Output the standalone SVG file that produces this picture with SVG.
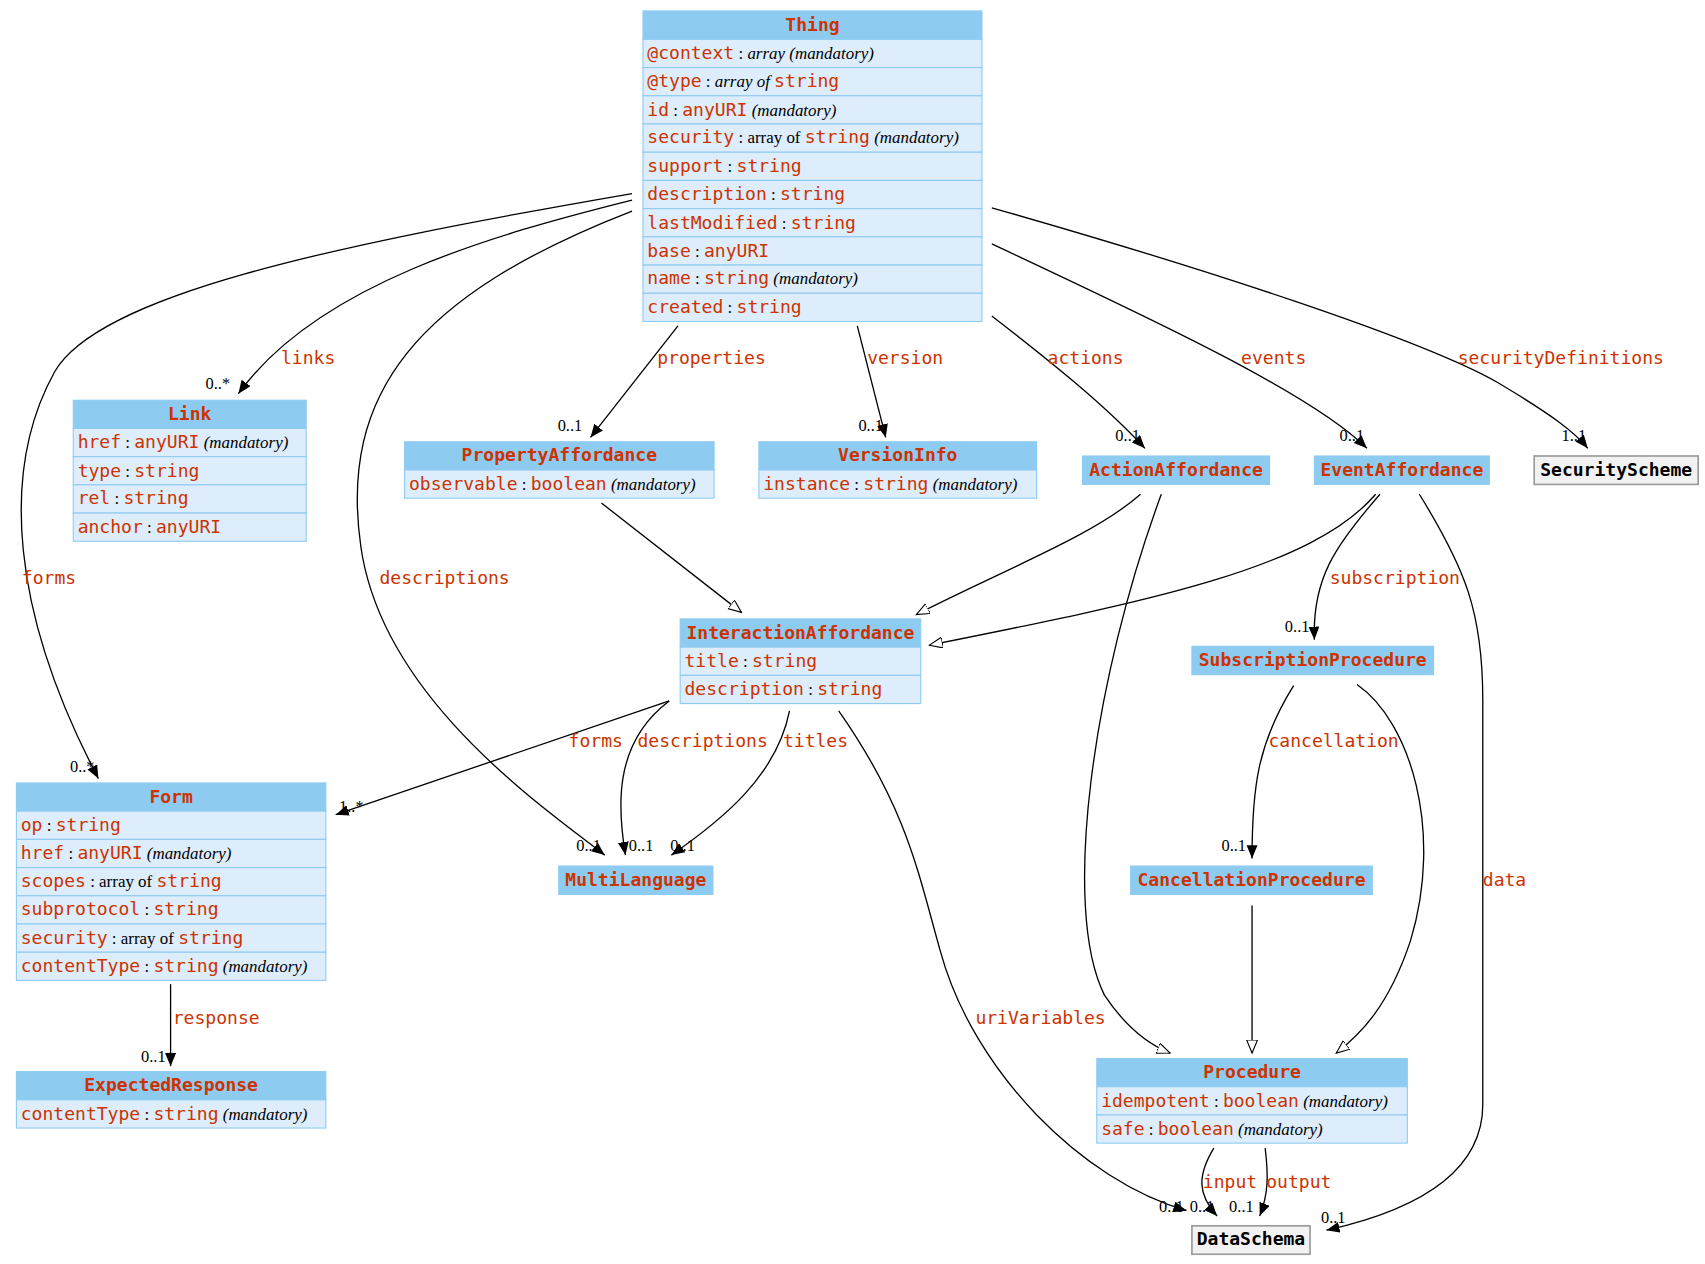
<svg xmlns="http://www.w3.org/2000/svg" width="1705" height="1264" viewBox="0 0 1705 1264">
<style>
.h{fill:#8ecbf1;stroke:#8ecbf1}
.r{fill:#ddedfc;stroke:#8ecbf1}
.g{fill:#f2f2f2;stroke:#999;stroke-width:1.5}
.m{font-family:"DejaVu Sans Mono",monospace;font-size:16.5px;fill:#cc3300}
.hb{font-family:"DejaVu Sans Mono",monospace;font-size:16.5px;font-weight:bold;fill:#cc3300;text-anchor:middle}
.gb{font-family:"DejaVu Sans Mono",monospace;font-size:16.5px;font-weight:bold;fill:#000;text-anchor:middle}
.s{font-family:"Liberation Serif",serif;font-size:15.5px;fill:#000}
.i{font-family:"Liberation Serif",serif;font-size:15.5px;font-style:italic;fill:#000}
.e{fill:none;stroke:#000;stroke-width:1.2}
.a{marker-end:url(#arr)}
.t{marker-end:url(#tri)}
.lab{font-family:"DejaVu Sans Mono",monospace;font-size:16.5px;fill:#cc3300}
.mul{font-family:"Liberation Serif",serif;font-size:15px;fill:#000}
</style>
<defs>
<marker id="arr" markerUnits="userSpaceOnUse" markerWidth="14" markerHeight="12" refX="12" refY="5" orient="auto"><path d="M0,0 L12,5 L0,10 z" fill="#000"/></marker>
<marker id="tri" markerUnits="userSpaceOnUse" markerWidth="14" markerHeight="12" refX="12" refY="5" orient="auto"><path d="M0,0 L12,5 L0,10 z" fill="#fff" stroke="#000"/></marker>
</defs>
<g transform="scale(1.0935)">
<g id="connectors">
<path class="e a" d="M578,183 C450,215 290,260 218,360"/><text class="lab" x="257" y="333">links</text><text class="mul" x="188" y="356">0..*</text>
<path class="e a" d="M578,177 C300,225 90,270 50,340 C0,430 10,560 90,712"/><text class="lab" x="20" y="534">forms</text><text class="mul" x="64" y="706">0..*</text>
<path class="e a" d="M578,193 C380,270 310,360 330,500 C350,640 500,740 553,782"/><text class="lab" x="347" y="534">descriptions</text><text class="mul" x="527" y="778">0..1</text>
<path class="e a" d="M620,298 L540,400"/><text class="lab" x="601" y="333">properties</text><text class="mul" x="510" y="394">0..1</text>
<path class="e a" d="M784,298 L810,400"/><text class="lab" x="793" y="333">version</text><text class="mul" x="785" y="394">0..1</text>
<path class="e a" d="M907,289 C960,330 1010,370 1047,410"/><text class="lab" x="958" y="333">actions</text><text class="mul" x="1020" y="403">0..1</text>
<path class="e a" d="M907,223 C1050,290 1200,360 1250,410"/><text class="lab" x="1135" y="333">events</text><text class="mul" x="1225" y="403">0..1</text>
<path class="e a" d="M907,190 C1100,245 1300,310 1370,350 C1420,380 1440,395 1452,410"/><text class="lab" x="1333" y="333">securityDefinitions</text><text class="mul" x="1428" y="403">1..1</text>
<path class="e t" d="M550,460 L678,560"/>
<path class="e t" d="M1043,452 C1000,490 920,520 838,562"/>
<path class="e t" d="M1258,452 C1200,520 1050,550 850,590"/>
<path class="e t" d="M1062,452 C1000,620 970,830 1010,910 C1030,940 1050,955 1070,963"/>
<path class="e a" d="M1262,452 C1220,500 1200,530 1202,585"/><text class="lab" x="1216" y="534">subscription</text><text class="mul" x="1175" y="578">0..1</text>
<path class="e a" d="M1298,452 C1340,520 1356,560 1356,640 L1356,1010 C1356,1080 1280,1110 1213,1125"/><text class="lab" x="1356" y="810">data</text><text class="mul" x="1208" y="1118">0..1</text>
<path class="e t" d="M1241,626 C1290,660 1320,760 1290,860 C1270,920 1245,945 1222,963"/>
<path class="e a" d="M1183,627 C1150,680 1145,720 1145,785"/><text class="lab" x="1160" y="683">cancellation</text><text class="mul" x="1117" y="778">0..1</text>
<path class="e t" d="M1145,828 L1145,963"/>
<path class="e a" d="M612,641 L307,745"/><text class="lab" x="520" y="683">forms</text><text class="mul" x="310" y="743">1..*</text>
<path class="e a" d="M612,641 C560,680 565,740 572,782"/><text class="lab" x="583" y="683">descriptions</text><text class="mul" x="575" y="778">0..1</text>
<path class="e a" d="M722,650 C710,710 660,750 614,782"/><text class="lab" x="716" y="683">titles</text><text class="mul" x="613" y="778">0..1</text>
<path class="e a" d="M767,650 C830,740 840,800 860,870 C890,980 990,1080 1085,1107"/><text class="lab" x="892" y="936">uriVariables</text><text class="mul" x="1060" y="1108">0..1</text>
<path class="e a" d="M156,900 L156,975"/><text class="lab" x="158" y="936">response</text><text class="mul" x="129" y="971">0..1</text>
<path class="e a" d="M1110,1050 C1095,1075 1095,1092 1113,1112"/><text class="lab" x="1100" y="1086">input</text><text class="mul" x="1088" y="1108">0..1</text>
<path class="e a" d="M1157,1050 C1160,1075 1160,1092 1152,1112"/><text class="lab" x="1158" y="1086">output</text><text class="mul" x="1124" y="1108">0..1</text>
</g>
<g id="Thing">
<rect class="h" x="588" y="10" width="310" height="26"/><text class="hb" x="743" y="28">Thing</text>
<rect class="r" x="588" y="36" width="310" height="25.8"/><text x="592" y="54"><tspan class="m">@context</tspan><tspan class="s"> : </tspan><tspan class="i">array (mandatory)</tspan></text>
<rect class="r" x="588" y="61.8" width="310" height="25.8"/><text x="592" y="80"><tspan class="m">@type</tspan><tspan class="s"> : </tspan><tspan class="i">array of </tspan><tspan class="m">string</tspan></text>
<rect class="r" x="588" y="87.6" width="310" height="25.8"/><text x="592" y="106"><tspan class="m">id</tspan><tspan class="s"> : </tspan><tspan class="m">anyURI</tspan><tspan class="i"> (mandatory)</tspan></text>
<rect class="r" x="588" y="113.4" width="310" height="25.8"/><text x="592" y="131"><tspan class="m">security</tspan><tspan class="s"> : array of </tspan><tspan class="m">string</tspan><tspan class="i"> (mandatory)</tspan></text>
<rect class="r" x="588" y="139.2" width="310" height="25.8"/><text x="592" y="157"><tspan class="m">support</tspan><tspan class="s"> : </tspan><tspan class="m">string</tspan></text>
<rect class="r" x="588" y="165" width="310" height="25.8"/><text x="592" y="183"><tspan class="m">description</tspan><tspan class="s"> : </tspan><tspan class="m">string</tspan></text>
<rect class="r" x="588" y="190.8" width="310" height="25.8"/><text x="592" y="209"><tspan class="m">lastModified</tspan><tspan class="s"> : </tspan><tspan class="m">string</tspan></text>
<rect class="r" x="588" y="216.6" width="310" height="25.8"/><text x="592" y="235"><tspan class="m">base</tspan><tspan class="s"> : </tspan><tspan class="m">anyURI</tspan></text>
<rect class="r" x="588" y="242.4" width="310" height="25.8"/><text x="592" y="260"><tspan class="m">name</tspan><tspan class="s"> : </tspan><tspan class="m">string</tspan><tspan class="i"> (mandatory)</tspan></text>
<rect class="r" x="588" y="268.2" width="310" height="25.8"/><text x="592" y="286"><tspan class="m">created</tspan><tspan class="s"> : </tspan><tspan class="m">string</tspan></text>
</g>
<g id="Link">
<rect class="h" x="67" y="366" width="213" height="25.8"/><text class="hb" x="173.5" y="384">Link</text>
<rect class="r" x="67" y="391.8" width="213" height="25.8"/><text x="71" y="410"><tspan class="m">href</tspan><tspan class="s"> : </tspan><tspan class="m">anyURI</tspan><tspan class="i"> (mandatory)</tspan></text>
<rect class="r" x="67" y="417.6" width="213" height="25.8"/><text x="71" y="436"><tspan class="m">type</tspan><tspan class="s"> : </tspan><tspan class="m">string</tspan></text>
<rect class="r" x="67" y="443.4" width="213" height="25.8"/><text x="71" y="461"><tspan class="m">rel</tspan><tspan class="s"> : </tspan><tspan class="m">string</tspan></text>
<rect class="r" x="67" y="469.2" width="213" height="25.8"/><text x="71" y="487"><tspan class="m">anchor</tspan><tspan class="s"> : </tspan><tspan class="m">anyURI</tspan></text>
</g>
<g id="PropertyAffordance">
<rect class="h" x="370" y="404" width="283" height="25.8"/><text class="hb" x="511.5" y="422">PropertyAffordance</text>
<rect class="r" x="370" y="429.8" width="283" height="25.8"/><text x="374" y="448"><tspan class="m">observable</tspan><tspan class="s"> : </tspan><tspan class="m">boolean</tspan><tspan class="i"> (mandatory)</tspan></text>
</g>
<g id="VersionInfo">
<rect class="h" x="694" y="404" width="254" height="25.8"/><text class="hb" x="821" y="422">VersionInfo</text>
<rect class="r" x="694" y="429.8" width="254" height="25.8"/><text x="698" y="448"><tspan class="m">instance</tspan><tspan class="s"> : </tspan><tspan class="m">string</tspan><tspan class="i"> (mandatory)</tspan></text>
</g>
<g id="ActionAffordance"><rect class="h" x="990" y="417" width="171" height="26"/><text class="hb" x="1075.5" y="435">ActionAffordance</text></g>
<g id="EventAffordance"><rect class="h" x="1202" y="417" width="160" height="26"/><text class="hb" x="1282" y="435">EventAffordance</text></g>
<g id="SecurityScheme"><rect class="g" x="1403" y="417" width="150" height="26"/><text class="gb" x="1478" y="435">SecurityScheme</text></g>
<g id="InteractionAffordance">
<rect class="h" x="622" y="566" width="220" height="25.8"/><text class="hb" x="732" y="584">InteractionAffordance</text>
<rect class="r" x="622" y="591.8" width="220" height="25.8"/><text x="626" y="610"><tspan class="m">title</tspan><tspan class="s"> : </tspan><tspan class="m">string</tspan></text>
<rect class="r" x="622" y="617.6" width="220" height="25.8"/><text x="626" y="636"><tspan class="m">description</tspan><tspan class="s"> : </tspan><tspan class="m">string</tspan></text>
</g>
<g id="SubscriptionProcedure"><rect class="h" x="1090" y="591" width="221" height="26"/><text class="hb" x="1200.5" y="609">SubscriptionProcedure</text></g>
<g id="Form">
<rect class="h" x="15" y="716" width="283" height="25.8"/><text class="hb" x="156.5" y="734">Form</text>
<rect class="r" x="15" y="741.8" width="283" height="25.8"/><text x="19" y="760"><tspan class="m">op</tspan><tspan class="s"> : </tspan><tspan class="m">string</tspan></text>
<rect class="r" x="15" y="767.6" width="283" height="25.8"/><text x="19" y="786"><tspan class="m">href</tspan><tspan class="s"> : </tspan><tspan class="m">anyURI</tspan><tspan class="i"> (mandatory)</tspan></text>
<rect class="r" x="15" y="793.4" width="283" height="25.8"/><text x="19" y="811"><tspan class="m">scopes</tspan><tspan class="s"> : array of </tspan><tspan class="m">string</tspan></text>
<rect class="r" x="15" y="819.2" width="283" height="25.8"/><text x="19" y="837"><tspan class="m">subprotocol</tspan><tspan class="s"> : </tspan><tspan class="m">string</tspan></text>
<rect class="r" x="15" y="845" width="283" height="25.8"/><text x="19" y="863"><tspan class="m">security</tspan><tspan class="s"> : array of </tspan><tspan class="m">string</tspan></text>
<rect class="r" x="15" y="870.8" width="283" height="25.8"/><text x="19" y="889"><tspan class="m">contentType</tspan><tspan class="s"> : </tspan><tspan class="m">string</tspan><tspan class="i"> (mandatory)</tspan></text>
</g>
<g id="MultiLanguage"><rect class="h" x="511" y="792" width="141" height="26"/><text class="hb" x="581.5" y="810">MultiLanguage</text></g>
<g id="CancellationProcedure"><rect class="h" x="1034" y="792" width="221" height="26"/><text class="hb" x="1144.5" y="810">CancellationProcedure</text></g>
<g id="ExpectedResponse">
<rect class="h" x="15" y="980" width="283" height="25.8"/><text class="hb" x="156.5" y="998">ExpectedResponse</text>
<rect class="r" x="15" y="1005.8" width="283" height="25.8"/><text x="19" y="1024"><tspan class="m">contentType</tspan><tspan class="s"> : </tspan><tspan class="m">string</tspan><tspan class="i"> (mandatory)</tspan></text>
</g>
<g id="Procedure">
<rect class="h" x="1003" y="968" width="284" height="25.8"/><text class="hb" x="1145" y="986">Procedure</text>
<rect class="r" x="1003" y="993.8" width="284" height="25.8"/><text x="1007" y="1012"><tspan class="m">idempotent</tspan><tspan class="s"> : </tspan><tspan class="m">boolean</tspan><tspan class="i"> (mandatory)</tspan></text>
<rect class="r" x="1003" y="1019.6" width="284" height="25.8"/><text x="1007" y="1038"><tspan class="m">safe</tspan><tspan class="s"> : </tspan><tspan class="m">boolean</tspan><tspan class="i"> (mandatory)</tspan></text>
</g>
<g id="DataSchema"><rect class="g" x="1090" y="1121" width="108" height="26"/><text class="gb" x="1144" y="1139">DataSchema</text></g>
</g>
</svg>
